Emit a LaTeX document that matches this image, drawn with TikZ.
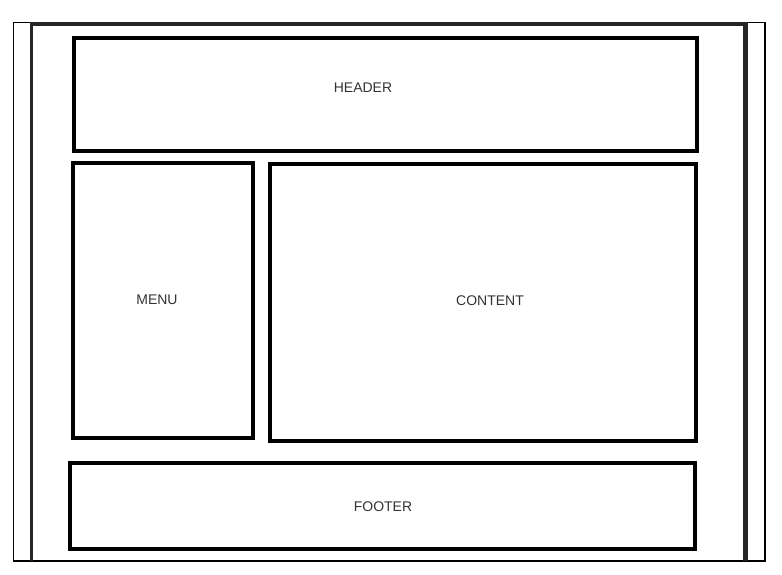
\documentclass[tikz,border=0pt]{standalone}
\usepackage{fontspec}
\setmainfont{Liberation Sans}
\begin{document}
\begin{tikzpicture}[x=1pt,y=-1pt,
  layoutbox/.style={draw=black, line width=4pt, fill=white, inner sep=0pt,
    font=\fontsize{14}{16}\selectfont, text=black!80},
  framebar/.style={draw=black!85, line cap=butt}]
\useasboundingbox (0,0) rectangle (782,575);
\fill[white] (0,0) rectangle (782,575);
% outer thin frame
\draw[black, line width=1.2pt] (13.5,22.5) rectangle (765,561);
% inner page frame
\draw[framebar, line width=3pt] (31,561) -- (31,23);
\draw[framebar, line width=4pt] (29.5,24.5) -- (748,24.5);
\draw[framebar, line width=5pt] (745.5,22.5) -- (745.5,561);
% boxes
\node[layoutbox, minimum width=622.5pt, minimum height=113pt] (header) at (385.25,94.5) {};
\node[layoutbox, minimum width=180pt, minimum height=275pt] (menu) at (163,300.5) {};
\node[layoutbox, minimum width=426pt, minimum height=276.5pt] (content) at (483,302.75) {};
\node[layoutbox, minimum width=625pt, minimum height=86.5pt] (footer) at (382.5,505.75) {};
% labels
\node[font=\fontsize{14}{16}\selectfont, text=black!80] (lh) at (363,88) {HEADER};
\node[font=\fontsize{14}{16}\selectfont, text=black!80] (lm) at (157,300) {MENU};
\node[font=\fontsize{14}{16}\selectfont, text=black!80] (lc) at (490,301) {CONTENT};
\node[font=\fontsize{14}{16}\selectfont, text=black!80] (lf) at (383,507) {FOOTER};
\end{tikzpicture}
\end{document}
